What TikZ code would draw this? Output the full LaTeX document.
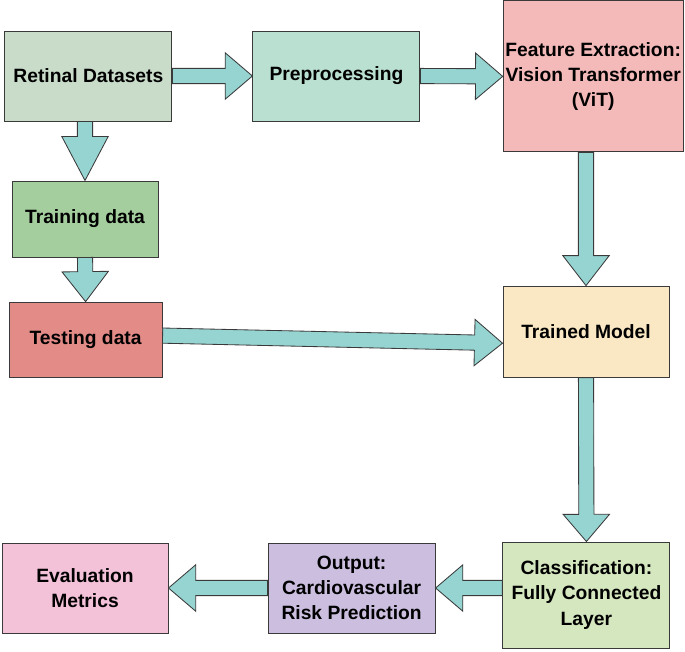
\documentclass[tikz,border=0pt]{standalone}
\usepackage{fontspec}
\setmainfont{Liberation Sans}
\usepackage{xcolor}
\usepackage{tikz}
\usetikzlibrary{positioning, calc}

\definecolor{retinalfill}{HTML}{C8DCC9}
\definecolor{prepfill}{HTML}{B9E0D0}
\definecolor{featfill}{HTML}{F4BABA}
\definecolor{trainfill}{HTML}{A4CE9E}
\definecolor{testfill}{HTML}{E38B87}
\definecolor{modelfill}{HTML}{F9E8C3}
\definecolor{classfill}{HTML}{D5E7BF}
\definecolor{outfill}{HTML}{CBBEDF}
\definecolor{evalfill}{HTML}{F3C1D8}
\definecolor{arrowfill}{HTML}{96D4D1}
\definecolor{edgegray}{HTML}{3A3A3A}

% fat block arrow between two points, optional head length
\newcommand{\fatarrow}[3][0.68cm]{%
  \coordinate (fa-s) at (#2);
  \coordinate (fa-e) at (#3);
  \coordinate (fa-h) at ($(fa-e)!#1!(fa-s)$);
  \draw[fatarr] ($(fa-s)!0.19cm!90:(fa-e)$) -- ($(fa-h)!0.19cm!-90:(fa-s)$)
    -- ($(fa-h)!0.58cm!-90:(fa-s)$) -- (fa-e) -- ($(fa-h)!0.58cm!90:(fa-s)$)
    -- ($(fa-h)!0.19cm!90:(fa-s)$) -- ($(fa-s)!0.19cm!-90:(fa-e)$) -- cycle;
}

\begin{document}
\begin{tikzpicture}[
    block/.style={rectangle, draw=edgegray, line width=0.7pt, inner sep=1pt, align=center,
      font=\fontsize{13.7}{17.8}\selectfont\bfseries},
    fatarr/.style={draw=edgegray, line width=0.6pt, fill=arrowfill, line join=miter},
]
\useasboundingbox (0,0) rectangle (17.125,-16.275);

\node[block, fill=retinalfill, minimum width=4.175cm, minimum height=2.25cm] (retinal) at (2.21, -1.9) {Retinal Datasets};
\node[block, fill=prepfill, minimum width=4.175cm, minimum height=2.25cm] (prep) at (8.41, -1.9) {Preprocessing};
\node[block, fill=featfill, minimum width=4.5cm, minimum height=3.775cm] (feat) at (14.83, -1.91) {Feature Extraction:\\Vision Transformer\\(ViT)};

\node[block, fill=trainfill, minimum width=3.65cm, minimum height=1.9cm] (train) at (2.125, -5.475) {Training data};
\node[block, fill=testfill, minimum width=3.825cm, minimum height=1.875cm] (test) at (2.14, -8.49) {Testing data};
\node[block, fill=modelfill, minimum width=4.15cm, minimum height=2.275cm] (model) at (14.65, -8.29) {Trained Model};

\node[block, fill=classfill, minimum width=4.175cm, minimum height=2.65cm] (classif) at (14.66, -14.875) {Classification:\\Fully Connected\\Layer};
\node[block, fill=outfill, minimum width=4.175cm, minimum height=2.25cm] (output) at (8.79, -14.7) {Output:\\Cardiovascular\\Risk Prediction};
\node[block, fill=evalfill, minimum width=4.15cm, minimum height=2.25cm] (eval) at (2.125, -14.7) {Evaluation\\Metrics};

\fatarrow{retinal.east}{prep.west}
\fatarrow{prep.east}{feat.west}
\fatarrow[1.1cm]{retinal.south -| train.north}{train.north}
\fatarrow[0.75cm]{train.south}{test.north}
\fatarrow[0.75cm]{feat.south -| model.north}{model.north}
\fatarrow[0.7cm]{$(test.east)+(0,0.1)$}{$(model.west)+(0,-0.29)$}
\fatarrow{model.south}{classif.north}
\fatarrow{classif.west |- output.east}{output.east}
\fatarrow{output.west}{eval.east}

\end{tikzpicture}
\end{document}
